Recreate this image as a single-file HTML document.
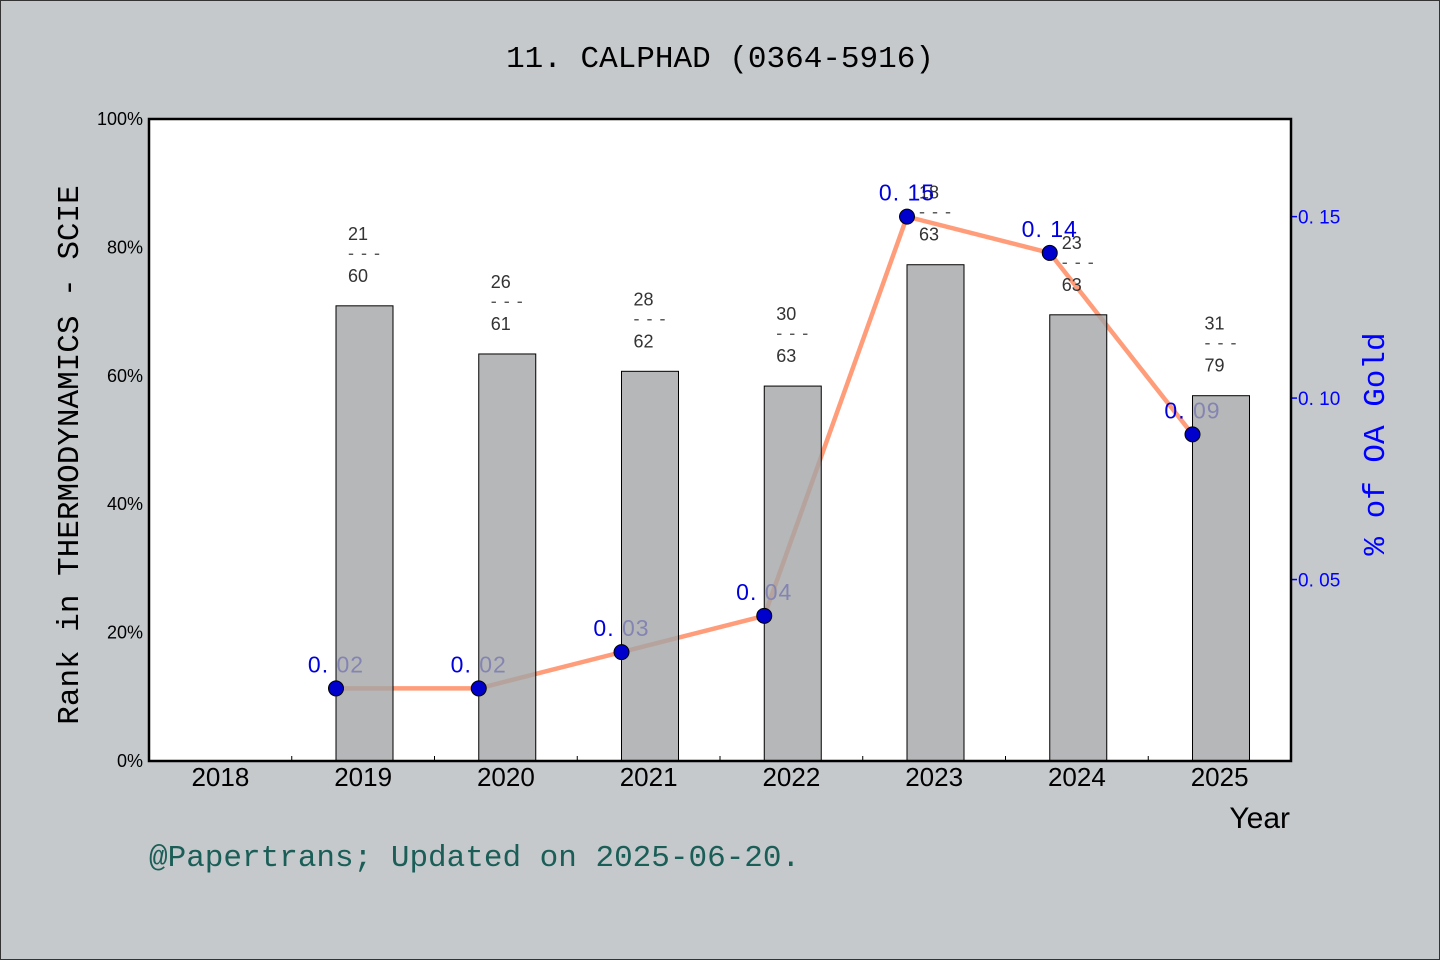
<!DOCTYPE html>
<html><head><meta charset="utf-8"><style>
html,body{margin:0;padding:0;background:#c5c9cc;}
svg{display:block;font-family:"Liberation Sans",sans-serif;}
.mono{font-family:"Liberation Mono","Noto Sans CJK SC",monospace;}
</style></head><body>
<svg id="chart" width="1440" height="960">
<rect x="0.5" y="0.5" width="1439" height="959" fill="#c5c9cc" stroke="#333"/>
<text x="720" y="67" text-anchor="middle" font-size="31" class="mono" fill="#000">11. CALPHAD (0364-5916)</text>
<rect x="149" y="119" width="1142" height="642" fill="#fff"/>
<g id="g-line"></g><g id="g-labels"></g><g id="g-bars"></g><g id="g-points"></g><g id="g-axes"></g>
<rect x="149" y="119" width="1142" height="642" fill="none" stroke="#000" stroke-width="2.5"/>
<text transform="translate(78,455) rotate(-90)" text-anchor="middle" font-size="31" class="mono" fill="#000">Rank in THERMODYNAMICS - SCIE</text>
<text transform="translate(1384,444) rotate(-90)" text-anchor="middle" font-size="31" class="mono" fill="#0000ff">% of OA Gold</text>
<text x="1290" y="828" text-anchor="end" font-size="30" fill="#000">Year</text>
<text x="149" y="866" font-size="31" class="mono" fill="#1b5e57">@Papertrans; Updated on 2025-06-20.</text>
</svg>
<script>
const years = ["2018","2019","2020","2021","2022","2023","2024","2025"];
const barYears = ["2019","2020","2021","2022","2023","2024","2025"];
const barPct = [70.9,63.4,60.7,58.4,77.3,69.5,56.9];
const ranks = ["21","26","28","30","18","23","31"];
const totals = ["60","61","62","63","63","63","79"];
const oaGold = [0.02,0.02,0.03,0.04,0.15,0.14,0.09];
const oaLabels = ["0.02","0.02","0.03","0.04","0.15","0.14","0.09"];
const yTicks = [0,20,40,60,80,100];
const y2Ticks = [0.05,0.10,0.15];
const y2TickLabels = ["0.05","0.10","0.15"];

const X0=149,X1=1291,Y0=761,Y1=119,step=(X1-X0)/years.length;
const NS="http://www.w3.org/2000/svg";
function xc(y){return X0+(years.indexOf(y)+0.5)*step;}
function xPt(y){return X0+(years.indexOf(y)+0.31)*step;}
function yL(v){return Y0-(v/100)*(Y0-Y1);}
function yR(v){return Y0-(v/0.1769)*(Y0-Y1);}
function mk(tag,attrs,parent,text){const e=document.createElementNS(NS,tag);for(const k in attrs)e.setAttribute(k,attrs[k]);if(text!==undefined)e.textContent=text;document.getElementById(parent).appendChild(e);return e;}

let d=barYears.map((y,i)=>(i?"L":"M")+xPt(y)+","+yR(oaGold[i])).join(" ");
let ln=mk("path",{d:d,fill:"none",stroke:"#ff9d7a","stroke-width":4.5,"stroke-linejoin":"round"},"g-line");



barYears.forEach((y,i)=>{
  const bx=xPt(y), top=yL(barPct[i]);
  const lx=bx+12;
  let t1=mk("text",{x:lx,y:top-66,"font-size":18,fill:"#333"},"g-labels",ranks[i]);
  
  
  let t2=mk("text",{x:lx,y:top-47,"font-size":18,fill:"#555",textLength:32,lengthAdjust:"spacing"},"g-labels","---");
  
  
  let t3=mk("text",{x:lx,y:top-24,"font-size":18,fill:"#333"},"g-labels",totals[i]);
  
  
  let vl=mk("text",{x:bx,y:yR(oaGold[i])-16,"font-size":23,fill:"#0000dd","text-anchor":"middle","letter-spacing":"1"},"g-labels",oaLabels[i].replace(".",". "));
  
  
  let b=mk("rect",{x:bx,y:top,width:57,height:Y0-top,fill:"#a4a5a6","fill-opacity":0.8,stroke:"#000","stroke-width":1},"g-bars");
  
  
  let p=mk("circle",{cx:bx,cy:yR(oaGold[i]),r:7.5,fill:"#0000cc",stroke:"#000","stroke-width":1},"g-points");
  
  
});

years.forEach((y,i)=>{
  let t=mk("text",{x:xc(y),y:786,"font-size":26,"text-anchor":"middle",fill:"#000"},"g-axes",y);
  
  
  if(i>0){let tk=mk("line",{x1:X0+i*step,x2:X0+i*step,y1:Y0,y2:Y0-5,stroke:"#000"},"g-axes");
  
  }
});
yTicks.forEach(v=>{
  let t=mk("text",{x:143,y:yL(v)+6,"font-size":18,"text-anchor":"end",fill:"#000"},"g-axes",v+"%");
  
  
});
y2Ticks.forEach((v,i)=>{
  let tk=mk("line",{x1:X1,x2:X1+6,y1:yR(v),y2:yR(v),stroke:"#0000ff","stroke-width":1.5},"g-axes");
  
  
  let t=mk("text",{x:X1+7,y:yR(v)+7,"font-size":19,fill:"#0000ff"},"g-axes",y2TickLabels[i].replace(".",". "));
  
  
});
</script>
</body></html>
